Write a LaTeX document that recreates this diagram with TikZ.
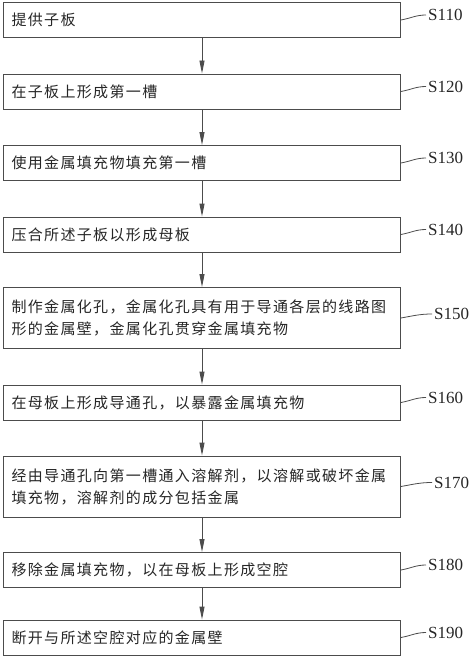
\documentclass[tikz,border=0pt]{standalone}
\usepackage{fontspec}
\setmainfont{Liberation Serif}
\newfontfamily\cjk[LetterSpace=9]{Noto Sans CJK SC}
\usetikzlibrary{arrows.meta}
\begin{document}
\begin{tikzpicture}[x=1pt, y=-1pt,
    stepbox/.style={draw=black!70, line width=0.9pt, rectangle, text width=381pt,
      inner xsep=8pt, inner ysep=0pt, minimum height=35pt, align=left,
      font=\cjk\fontsize{15}{22}\selectfont, text=black!85},
    twoline/.style={minimum height=61pt},
    steplabel/.style={anchor=west, inner sep=2pt, font=\fontsize{17}{20}\selectfont, text=black!85},
    flow/.style={draw=black!70, line width=0.9pt, -{Triangle[length=13pt,width=5pt]}},
    tick/.style={draw=black!70, line width=0.8pt}]
      \useasboundingbox (0,0) rectangle (474,663);

      % steps
      \node[stepbox] (provide) at (202,20) {提供子板};
      \node[stepbox] (groove) at (202,91.5) {在子板上形成第一槽};
      \node[stepbox] (fill) at (202,163) {使用金属填充物填充第一槽};
      \node[stepbox] (press) at (202,234.5) {压合所述子板以形成母板};
      \node[stepbox, twoline] (plate) at (202,318) {制作金属化孔，金属化孔具有用于导通各层的线路图\\形的金属壁，金属化孔贯穿金属填充物};
      \node[stepbox] (via) at (202,402.5) {在母板上形成导通孔，以暴露金属填充物};
      \node[stepbox, twoline] (solvent) at (202,486.5) {经由导通孔向第一槽通入溶解剂，以溶解或破坏金属\\填充物，溶解剂的成分包括金属};
      \node[stepbox] (cavity) at (202,570) {移除金属填充物，以在母板上形成空腔};
      \node[stepbox] (cut) at (202,637.5) {断开与所述空腔对应的金属壁};

      % labels
      \node[steplabel] (s110) at (426,15) {S110};
      \node[steplabel] (s120) at (426,86.5) {S120};
      \node[steplabel] (s130) at (426,158) {S130};
      \node[steplabel] (s140) at (426,229.5) {S140};
      \node[steplabel] (s150) at (432,314) {S150};
      \node[steplabel] (s160) at (426,397.5) {S160};
      \node[steplabel] (s170) at (432,482.5) {S170};
      \node[steplabel] (s180) at (426,565) {S180};
      \node[steplabel] (s190) at (426,632.5) {S190};

      \draw[tick] (provide.east) to[out=10, in=180] (s110.west);
      \draw[tick] (groove.east) to[out=10, in=180] (s120.west);
      \draw[tick] (fill.east) to[out=10, in=180] (s130.west);
      \draw[tick] (press.east) to[out=10, in=180] (s140.west);
      \draw[tick] (plate.east) to[out=10, in=180] (s150.west);
      \draw[tick] (via.east) to[out=10, in=180] (s160.west);
      \draw[tick] (solvent.east) to[out=10, in=180] (s170.west);
      \draw[tick] (cavity.east) to[out=10, in=180] (s180.west);
      \draw[tick] (cut.east) to[out=10, in=180] (s190.west);

      % arrows
      \draw[flow] (provide) -- (groove);
      \draw[flow] (groove) -- (fill);
      \draw[flow] (fill) -- (press);
      \draw[flow] (press) -- (plate);
      \draw[flow] (plate) -- (via);
      \draw[flow] (via) -- (solvent);
      \draw[flow] (solvent) -- (cavity);
      \draw[flow] (cavity) -- (cut);
    \end{tikzpicture}
\end{document}
